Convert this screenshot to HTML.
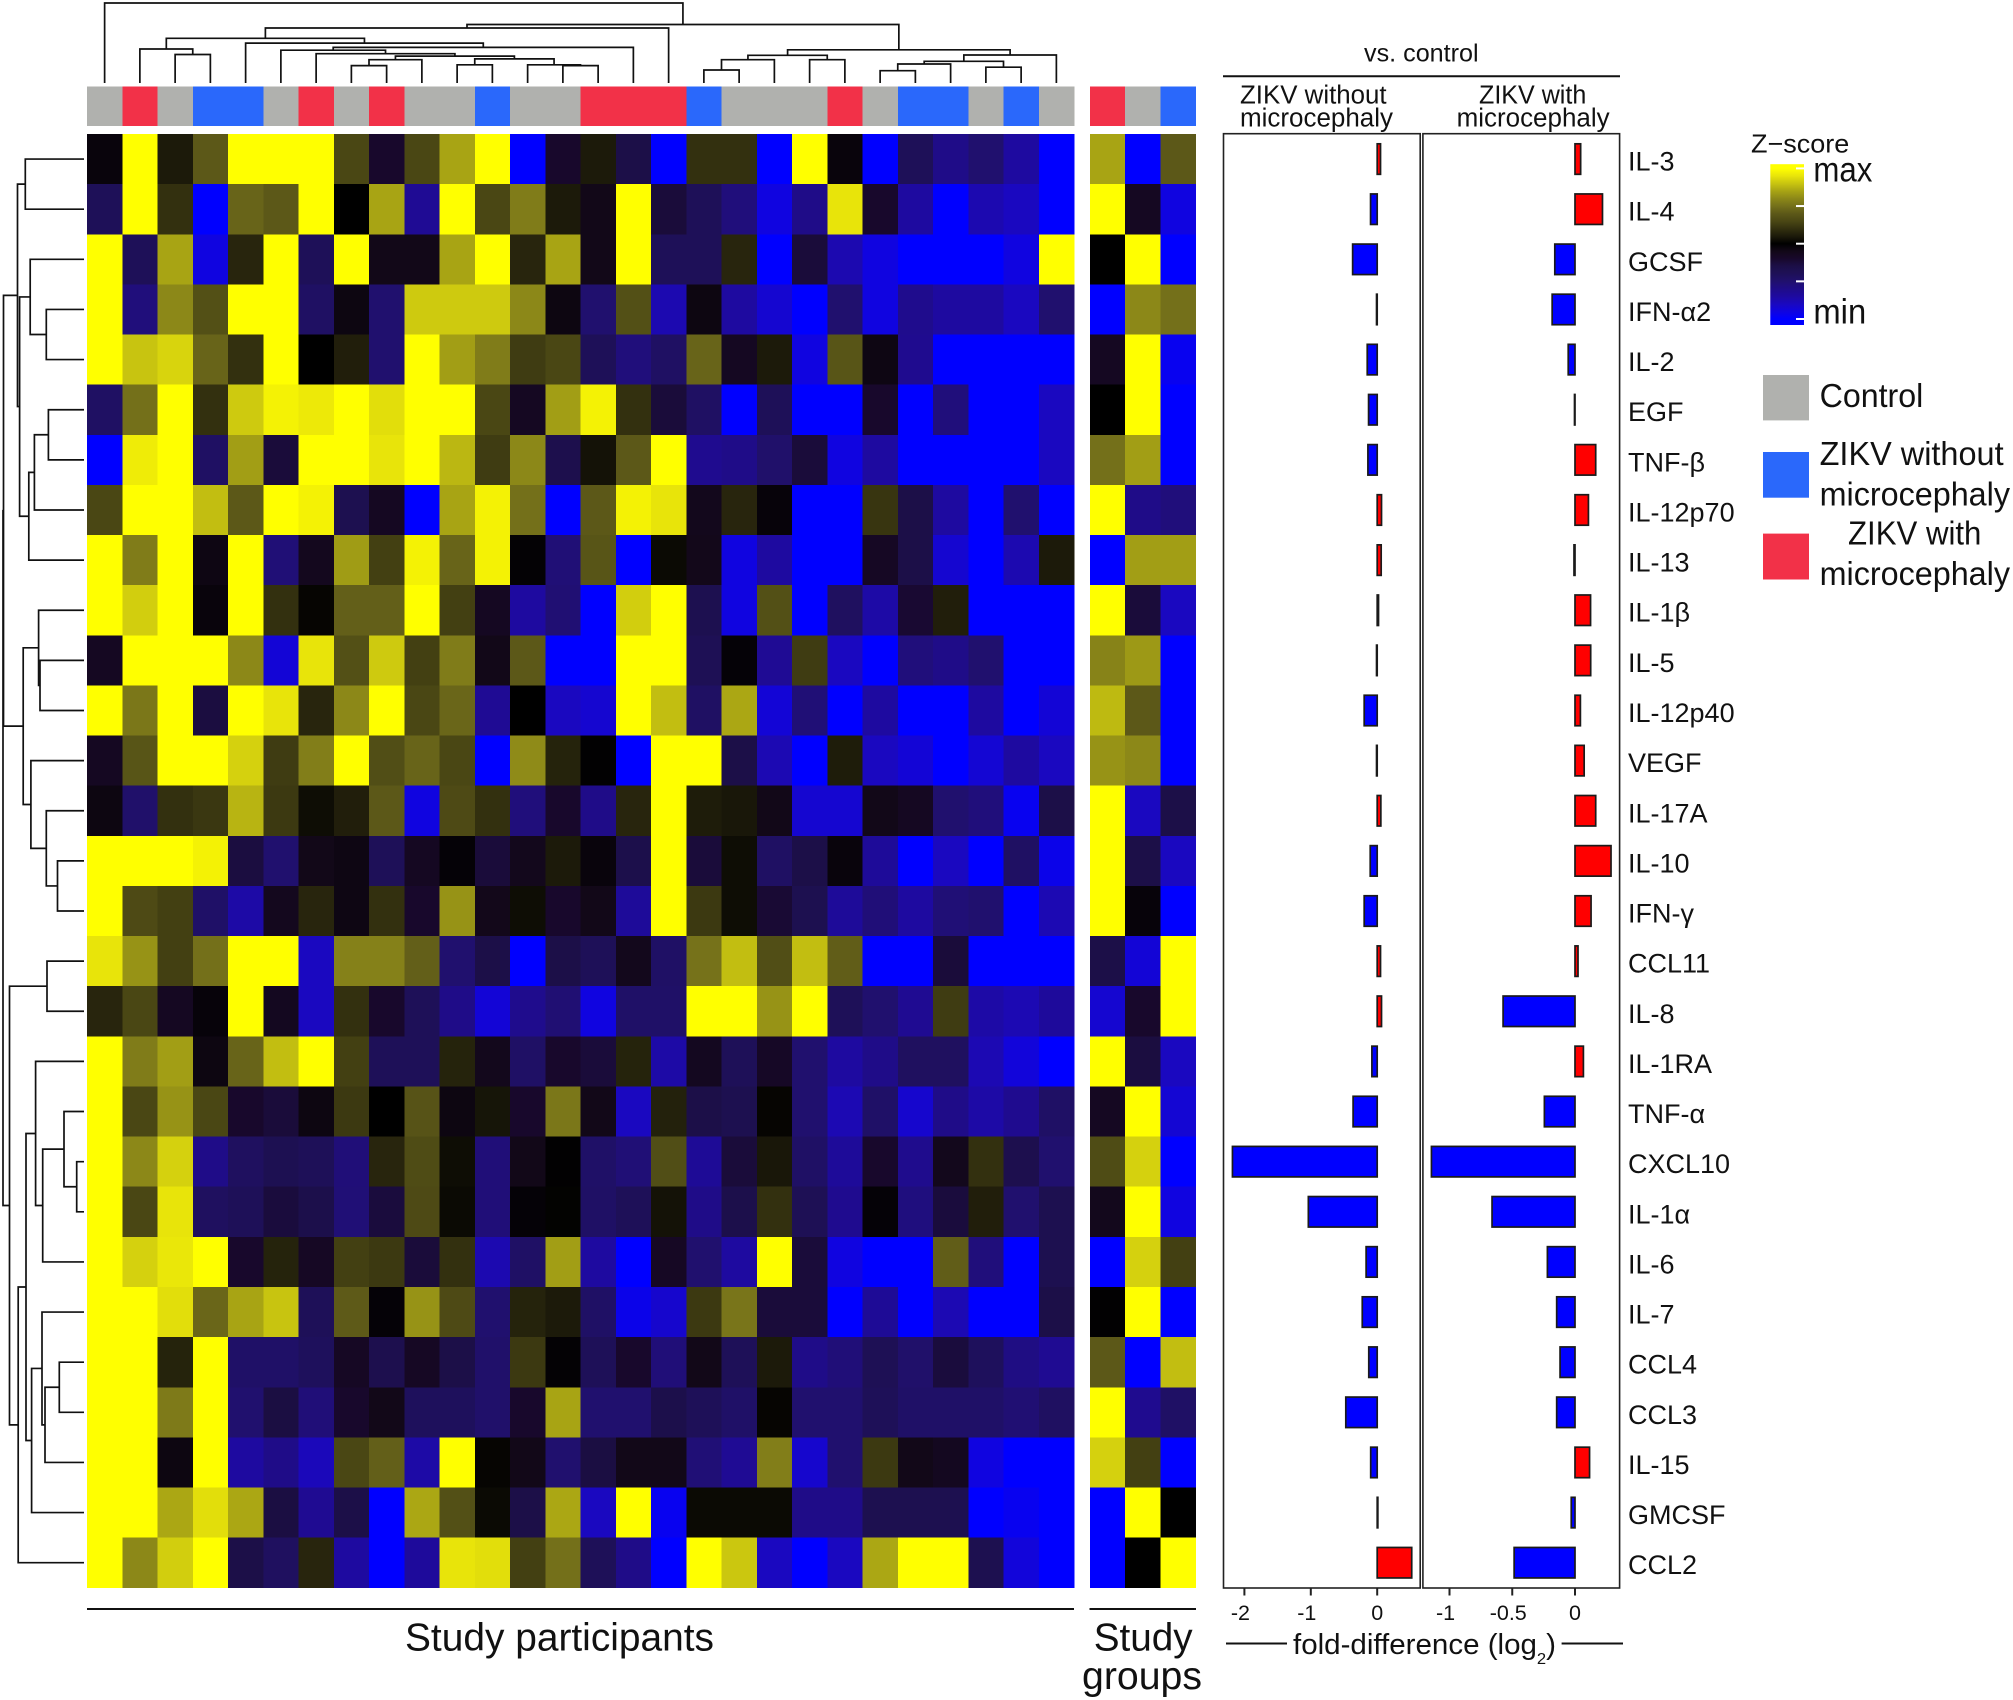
<!DOCTYPE html>
<html lang="en">
<head>
<meta charset="utf-8">
<title>Cytokine heatmap and fold-difference chart</title>
<style>
html,body{margin:0;padding:0;background:#fff}
svg{display:block}
text{font-family:"Liberation Sans",sans-serif;fill:#111}
</style>
</head>
<body>
<svg id="chart" xmlns="http://www.w3.org/2000/svg" width="2013" height="1700" viewBox="0 0 2013 1700">
<rect x="0" y="0" width="2013" height="1700" fill="#fff"/>
<g id="top-dendro"></g>
<g id="side-dendro"></g>
<g id="annot"></g>
<g id="heat"></g>
<g id="heat2"></g>
<g id="bars1"></g>
<g id="bars2"></g>
<g id="rowlabels"></g>
<g id="axes"></g>
<g id="key"></g>

<text x="1364" y="61.5" font-size="25" textLength="114.6" lengthAdjust="spacingAndGlyphs">vs. control</text>
<line x1="1223" y1="76.3" x2="1620" y2="76.3" stroke="#111" stroke-width="2"/>
<text x="1240" y="103.5" font-size="25.5" textLength="146.6" lengthAdjust="spacingAndGlyphs">ZIKV without</text>
<text x="1240" y="126.4" font-size="25.5" textLength="153" lengthAdjust="spacingAndGlyphs">microcephaly</text>
<text x="1479" y="103.5" font-size="25.5" textLength="107.3" lengthAdjust="spacingAndGlyphs">ZIKV with</text>
<text x="1456.6" y="126.4" font-size="25.5" textLength="153" lengthAdjust="spacingAndGlyphs">microcephaly</text>

<text x="1751" y="152.7" font-size="26" textLength="98.3" lengthAdjust="spacingAndGlyphs">Z−score</text>
<text x="1813.4" y="181.5" font-size="35" textLength="59" lengthAdjust="spacingAndGlyphs">max</text>
<text x="1813.4" y="323.3" font-size="35" textLength="52.8" lengthAdjust="spacingAndGlyphs">min</text>

<rect x="1763" y="375" width="46" height="45.4" fill="#b0b1ae"/>
<rect x="1763" y="452" width="46" height="45.7" fill="#2a68fb"/>
<rect x="1763" y="533.6" width="46" height="45.9" fill="#f23148"/>
<text x="1819.6" y="407" font-size="33" textLength="103.7" lengthAdjust="spacingAndGlyphs">Control</text>
<text x="1819.6" y="465" font-size="33" textLength="184" lengthAdjust="spacingAndGlyphs">ZIKV without</text>
<text x="1819.6" y="505.7" font-size="33" textLength="190.4" lengthAdjust="spacingAndGlyphs">microcephaly</text>
<text x="1848" y="544.7" font-size="33" textLength="133.4" lengthAdjust="spacingAndGlyphs">ZIKV with</text>
<text x="1819.6" y="585" font-size="33" textLength="190.4" lengthAdjust="spacingAndGlyphs">microcephaly</text>

<line x1="87" y1="1609" x2="1074" y2="1609" stroke="#111" stroke-width="2"/>
<line x1="1089.5" y1="1609" x2="1196" y2="1609" stroke="#111" stroke-width="2"/>
<text x="405" y="1650.6" font-size="39" textLength="309" lengthAdjust="spacingAndGlyphs">Study participants</text>
<text x="1093.7" y="1650.6" font-size="39" textLength="98.9" lengthAdjust="spacingAndGlyphs">Study</text>
<text x="1082" y="1689" font-size="39" textLength="120" lengthAdjust="spacingAndGlyphs">groups</text>

<line x1="1226" y1="1643.5" x2="1287" y2="1643.5" stroke="#111" stroke-width="2"/>
<line x1="1561.6" y1="1643.5" x2="1623" y2="1643.5" stroke="#111" stroke-width="2"/>
<text x="1293" y="1654" font-size="28.5" textLength="263" lengthAdjust="spacingAndGlyphs">fold-difference (log<tspan dy="10" font-size="16">2</tspan><tspan dy="-10">)</tspan></text>
</svg>

<script>
// ---------- data ----------
const cytokines = ["IL-3","IL-4","GCSF","IFN-α2","IL-2","EGF","TNF-β","IL-12p70","IL-13","IL-1β","IL-5","IL-12p40","VEGF","IL-17A","IL-10","IFN-γ","CCL11","IL-8","IL-1RA","TNF-α","CXCL10","IL-1α","IL-6","IL-7","CCL4","CCL3","IL-15","GMCSF","CCL2"];

// participant group of each column: C control, W ZIKV without microcephaly, M ZIKV with microcephaly
const participantGroups = ["C","M","C","W","W","C","M","C","M","C","C","W","C","C","M","M","M","W","C","C","C","M","C","W","W","C","W","C"];
const studyGroups = ["M","C","W"];

// z-scores, rows = cytokines, cols = participants (range -10..10 = min..max)
const heatValues = [
[-0.5,10,1,4,10,10,10,3,-2,3,7,10,-10,-2,1,-3,-10,2,2,-10,10,-0.5,-10,-4,-6,-5,-7,-10],
[-4,10,2,-10,4.5,4,10,0,7,-6.5,10,3,5.5,1,-1,10,-2.5,-4,-5.5,-9,-6,9,-2,-7,-10,-7.5,-8,-10],
[10,-4,7,-9,1.5,10,-4,10,-1,-1,7,10,1.5,7,-1,10,-4,-4,1.5,-10,-2.5,-7.5,-9,-10,-10,-10,-9,10],
[10,-5.5,6,3.5,10,10,-4.5,-0.7,-5,8.2,8.2,8.2,6,-0.7,-5,3.5,-7.5,-0.7,-7,-8.5,-10,-5,-9,-6.2,-7,-7,-8,-5],
[10,8,8.5,4.5,2,10,0,1.2,-5,10,6.8,5.5,2.5,3,-4,-5.5,-4.5,4.5,-1.5,1,-9,3.8,-0.8,-6.3,-10,-10,-10,-10],
[-4.5,5,10,2,8.2,9.5,9.2,10,8.8,10,10,3,-1.5,6.8,9.5,2,-2.5,-4.5,-10,-4,-10,-10,-2,-10,-5.5,-10,-10,-8],
[-10,9.3,10,-4.5,6.8,-2.5,10,10,9,10,7.6,2.5,6,-3.3,0.7,4,10,-6.3,-6,-4.8,-2.5,-9,-7,-10,-10,-10,-10,-8],
[3,10,10,7.8,4,10,9.5,-3.5,-1.5,-10,7,9.5,5,-10,4,9.5,9,-1.2,1.5,-0.4,-10,-10,2.2,-3,-7,-10,-5,-10],
[10,5.5,10,-0.8,10,-5.3,-1.3,6.7,2.7,9.5,4.5,9.5,-0.2,-5.3,3.8,-10,0.4,-1.1,-9,-7,-10,-10,-1.6,-3,-8.5,-10,-7.5,1],
[10,8.3,10,-0.5,10,2,0.2,4.3,4.3,10,2.7,-1.5,-7,-5.2,-10,8.3,10,-3.5,-9,3.5,-10,-4.3,-7.2,-2.2,1.2,-10,-10,-10],
[-1.5,10,10,10,6,-8.7,9,3.5,8.2,2.7,5.5,-1,4,-10,-10,10,10,-3.8,-0.3,-6.5,2.5,-8,-10,-5.5,-6,-5,-10,-10],
[10,5.3,10,-2.7,10,9,1.5,6,10,3,4.6,-6.5,0,-8,-8.5,10,7.8,-4.5,7.1,-8.7,-5.3,-10,-7,-10,-10,-7,-10,-8.7],
[-1.5,3.8,10,10,8.4,2.5,5.6,10,3.4,4.5,3,-10,6.1,1.4,-0.1,-10,10,10,-3,-7.6,-10,1.1,-8,-8.7,-10,-8.6,-7,-8],
[-0.7,-4.8,2,2.3,7.5,2.4,0.5,1.2,4,-9,3.2,2,-5.5,-2,-6,1.5,10,1.1,0.9,-1,-8.5,-8.5,-1,-1.5,-5,-5.5,-9.5,-3],
[10,10,10,9.5,-2.7,-5,-1,-0.8,-4,-1.5,-0.3,-2.5,-1.2,1,-0.5,-3.2,10,-2.5,0.5,-4.5,-3,-0.5,-6.7,-10,-8,-10,-4.5,-9.3],
[10,3.2,2.7,-4.7,-7.2,-1.3,1.5,-0.8,2,-2,6.4,-1.1,0.5,-2,-1,-6.7,10,2.4,0.5,-2.3,-3.5,-6.7,-5.4,-7,-5.3,-5,-10,-7.6],
[9,6.4,2.7,5,10,10,-8,5.7,5.7,4.3,-5,-3,-10,-3,-4,-1.2,-4.6,5.1,7.8,3.4,7.8,4.2,-10,-10,-2.5,-10,-10,-10],
[1.5,3,-1.5,-0.4,10,-1.4,-8,2,-2,-4,-6,-8.7,-6.2,-5.2,-9,-4.7,-4.7,10,10,6.4,10,-4,-5,-6.4,2.5,-7.2,-7.6,-6.8],
[10,5.5,6.8,-0.7,4.5,7.8,10,2.7,-4,-4,1.4,-1.2,-4.6,-2,-2.5,1.4,-7.2,-1.4,-4,-1.7,-5,-7,-6,-4.3,-4.3,-7.6,-8.8,-10],
[10,3,6.4,3,-2,-2.5,-0.7,2.4,0,3.7,-0.7,0.8,-2,5.3,-1,-8,1.3,-3,-3.5,0.2,-5,-7.6,-4.7,-8.4,-6,-7.2,-6.3,-4.6],
[10,6,8.4,-6,-4.3,-3.6,-4,-5.4,1.5,3.3,0.5,-5.4,-1,-0.1,-4.7,-5.3,3.4,-6.6,-2.5,0.9,-4.6,-6.7,-2,-6.2,-1.2,2,-3.4,-5],
[10,3,9,-4.3,-4,-2.6,-3.2,-5.3,-2.6,3.2,0.4,-5.4,-0.3,0.1,-4.6,-4,0.7,-6,-3.2,2,-3.8,-6.3,-0.3,-5.6,-2.6,1.2,-5,-3.5],
[10,8.4,9.1,10,-2,1.4,-1.6,2.7,2.4,-2.5,2,-7.5,-4.6,6.8,-7,-10,-1.6,-5,-7,10,-2.5,-9,-10,-10,4.2,-5.5,-10,-3.5],
[10,10,8.8,4.6,7,8,-4,4.1,-0.3,6.4,3.2,-5,1.4,1,-4.6,-9.3,-8.4,2.4,5.2,-2.5,-2.5,-10,-6.6,-10,-7.6,-10,-10,-3],
[10,10,1.4,10,-4.7,-4.7,-4.2,-1.6,-3.4,-1.6,-3,-4.8,2.4,-0.2,-4,-2,-5.4,-1,-4,1,-6,-5.4,-3.8,-4.8,-2.6,-4.2,-5.8,-6.4],
[10,10,5.4,10,-5,-2.8,-5.4,-2,-1,-4.2,-4.2,-4.8,-2,7,-5,-5,-3.2,-4,-4.7,0.2,-5,-5,-4,-4.7,-4.7,-4.7,-5.2,-4.4],
[10,10,-0.7,10,-7,-6,-7.8,3,4.3,-7.2,10,0.2,-1,-5,-2.8,-1,-1,-5.3,-6.5,5.6,-8.4,-5,2.4,-1,-1.4,-9,-10,-10],
[10,10,7.1,8.8,7.1,-2.8,-6.4,-3,-10,7.1,3.5,0.4,-3,7.1,-8,10,-9.5,0.4,0.4,0.4,-6,-6,-3.5,-3.5,-3.5,-10,-9.5,-10],
[10,6,8.3,10,-3,-4.3,1.5,-7,-10,-6.8,9,8.8,2.7,5,-4,-6,-10,10,8.1,-8,-10,-8,7.1,10,10,-3.5,-8.8,-10]
];

// z-scores, rows = cytokines, cols = study groups
const groupValues = [
[7,-10,4],[10,-1.5,-9],[0,10,-10],[-10,6,5],[-1.5,10,-9.5],[0,10,-10],[5,6.8,-10],[10,-6,-5.5],[-10,6.8,6.8],[10,-2.5,-8],
[5.8,6.6,-10],[7.7,4,-10],[6.4,6,-10],[10,-8,-3],[10,-3,-8],[10,-0.4,-10],[-3,-8.7,10],[-8.5,-2,10],[10,-2.7,-8],[-1.5,10,-8.6],
[3.3,8.4,-10],[-1.2,10,-9],[-10,8.4,2.7],[-0.1,10,-10],[4,-10,7.8],[10,-6.3,-4.6],[8.4,2.7,-10],[-10,10,0],[-10,0,10]
];

// log2 fold-difference vs control
const foldWithoutMicro = [0.05,-0.1,-0.37,-0.01,-0.15,-0.13,-0.14,0.065,0.06,0.02,-0.01,-0.196,-0.01,0.055,-0.105,-0.196,0.05,0.065,-0.08,-0.363,-2.18,-1.037,-0.167,-0.225,-0.127,-0.473,-0.098,0.01,0.52];
const foldWithMicro = [0.045,0.219,-0.161,-0.182,-0.054,-0.004,0.165,0.107,-0.008,0.124,0.125,0.043,0.073,0.165,0.287,0.128,0.024,-0.573,0.067,-0.244,-1.144,-0.661,-0.22,-0.146,-0.119,-0.146,0.116,-0.03,-0.485];

const ticksWithoutMicro = [-2,-1,0];
const ticksWithMicro = [-1,-0.5,0];
const keyTicks = [10,5,0,-5,-10];

// dendrogram merges: [height, left, right], integer = leaf index
const participantTree = [80,0,[58.5,[55,[44.7,[34,1,[28.5,2,3]],[39.9,4,[35.6,[32.8,5,[29.3,6,[26.9,[23.3,[17.4,7,8],9],[24.1,[18.2,10,11],[18.2,12,[17.4,13,14]]]]]],15]]],16],[33.2,[27.7,[23.3,[13,17,18],19],[23.3,20,21]],[28,[21.7,[19,[12.3,22,23],24],[15.8,25,26]],27]]]];
const cytokineTree = [81,[80.5,[66.5,[58.7,0,1],[64.4,[53.8,2,[37.7,3,4]],[55.2,[49.6,[35.6,5,6],7],8]]],[60.8,[45.4,9,[44,10,11]],[53.1,12,[37.7,13,[26.5,14,15]]]]],[74.5,[37,16,17],[65.8,[58,[48.4,18,[41.3,[20,19,[7.3,20,21]],22]],[52.4,[42,23,[39,[24.7,24,25],26]],27]],28]]];

// ---------- scales and styles ----------
const NS = "http://www.w3.org/2000/svg";
const heatLeft = 87, colW = 35.25, heatTop = 134, rowH = 50.13;
const groupLeft = 1089.8, groupW = 35.3;
const rowCenter = r => heatTop + rowH * (r + 0.5);
const colCenter = c => heatLeft + colW * (c + 0.5);
const groupColor = {C:"#b0b1ae",W:"#2a68fb",M:"#f23148"};
const colorStops = ["#0000ff","#1004e0","#1a08c0","#1e0aa0","#1f0c88","#20106e","#1e1058","#1c0f48","#18082c","#120818","#000000","#1c1a0a","#33300f","#4a4714","#5c5818","#74701a","#8c8818","#a8a414","#c8c410","#e8e40a","#ffff00"];
function hex(c){return [1,3,5].map(i=>parseInt(c.substr(i,2),16));}
function zColor(v){
  const t = Math.max(0,Math.min(20,v+10));
  const i = Math.min(19,Math.floor(t));
  const f = t-i, a = hex(colorStops[i]), b = hex(colorStops[i+1]);
  return "rgb("+a.map((x,k)=>Math.round(x+(b[k]-x)*f)).join(",")+")";
}
function mk(tag,attrs,parent){
  const el = document.createElementNS(NS,tag);
  for(const k in attrs) el.setAttribute(k,attrs[k]);
  parent.appendChild(el);
  return el;
}
const $ = id => document.getElementById(id);

// ---------- annotation ----------
participantGroups.forEach((g,c)=>{
  const el = mk("rect",{x:heatLeft+colW*c,y:86.6,width:colW+0.4,height:39.4,fill:groupColor[g],"shape-rendering":"crispEdges"},$("annot"));
  
  
});
studyGroups.forEach((g,c)=>{
  const el = mk("rect",{x:groupLeft+groupW*c,y:86.6,width:groupW+0.4,height:39.4,fill:groupColor[g],"shape-rendering":"crispEdges"},$("annot"));
  
  
});

// ---------- heatmaps ----------
heatValues.forEach((row,r)=>row.forEach((v,c)=>{
  const el = mk("rect",{x:heatLeft+colW*c,y:heatTop+rowH*r,width:colW+0.4,height:rowH+0.4,fill:zColor(v),"shape-rendering":"crispEdges"},$("heat"));
  
  
}));
groupValues.forEach((row,r)=>row.forEach((v,c)=>{
  const el = mk("rect",{x:groupLeft+groupW*c,y:heatTop+rowH*r,width:groupW+0.4,height:rowH+0.4,fill:zColor(v),"shape-rendering":"crispEdges"},$("heat2"));
  
  
}));

// ---------- dendrograms ----------
function drawTree(node,leafPos,project,parent){
  if(typeof node==="number") return {pos:leafPos(node),h:0};
  const a = drawTree(node[1],leafPos,project,parent);
  const b = drawTree(node[2],leafPos,project,parent);
  const h = node[0];
  const p1 = project(a.pos,a.h), p2 = project(a.pos,h), p3 = project(b.pos,h), p4 = project(b.pos,b.h);
  const el = mk("polyline",{points:[p1,p2,p3,p4].map(p=>p.join(",")).join(" "),fill:"none",stroke:"#111","stroke-width":1.7},parent);
  
  
  return {pos:(a.pos+b.pos)/2,h:h};
}
drawTree(participantTree,colCenter,(p,h)=>[p,83-h],$("top-dendro"));
drawTree(cytokineTree,rowCenter,(p,h)=>[84-h,p],$("side-dendro"));

// ---------- fold-difference panels ----------
const panelTop = 133.7, panelBottom = 1588, barH = 30.5;
const x1 = v => 1377.2 + 66.4*v;
const x2 = v => 1575 + 125.5*v;
function panel(gid,values,xs,ticks,left,right,name){
  const g = $(gid);
  const box = mk("rect",{x:left,y:panelTop,width:right-left,height:panelBottom-panelTop,fill:"#fff",stroke:"#222","stroke-width":1.6},g);
  
  
  values.forEach((v,r)=>{
    const a = xs(Math.min(0,v)), b = xs(Math.max(0,v));
    const bar = mk("rect",{x:a,y:rowCenter(r)-barH/2,width:Math.max(0.2,b-a),height:barH,fill:v>=0?"#ff0000":"#0000ff",stroke:"#1a1a1a","stroke-width":1.7},g);
    
    
  });
  ticks.forEach(t=>{
    const tick = mk("line",{x1:xs(t),x2:xs(t),y1:panelBottom,y2:panelBottom+7.5,stroke:"#222","stroke-width":2},$("axes"));
    
    
    const lab = mk("text",{x:xs(t)-(t<0?4:0),y:1620,"font-size":21.5,"text-anchor":"middle"},$("axes"));
    
    
    lab.textContent = String(t);
  });
}
panel("bars1",foldWithoutMicro,x1,ticksWithoutMicro,1223.5,1420.2,"without-microcephaly");
panel("bars2",foldWithMicro,x2,ticksWithMicro,1422.9,1619.6,"with-microcephaly");

// ---------- row labels ----------
cytokines.forEach((name,r)=>{
  const el = mk("text",{x:1628,y:rowCenter(r)+11.5,"font-size":27},$("rowlabels"));
  
  
  el.textContent = name;
});

// ---------- color key ----------
const keyY = v => 243.7 - 7.53*v;
const svgEl = $("chart");
const defs = mk("defs",{},svgEl);
const grad = mk("linearGradient",{id:"keyGrad",x1:0,y1:0,x2:0,y2:1},defs);
const keyTop = 164.2, keyBottom = 325;
for(let v=10;v>=-10;v-=1){
  const off = (keyY(v)-keyTop)/(keyBottom-keyTop);
  mk("stop",{offset:off,"stop-color":zColor(v)},grad);
}
const keyRect = mk("rect",{x:1770.3,y:keyTop,width:33.7,height:keyBottom-keyTop,fill:"url(#keyGrad)"},$("key"));


keyTicks.forEach(v=>{
  const el = mk("line",{x1:1796,x2:1804,y1:keyY(v),y2:keyY(v),stroke:"#fff","stroke-width":2},$("key"));
  
  
});
</script>
</body>
</html>
